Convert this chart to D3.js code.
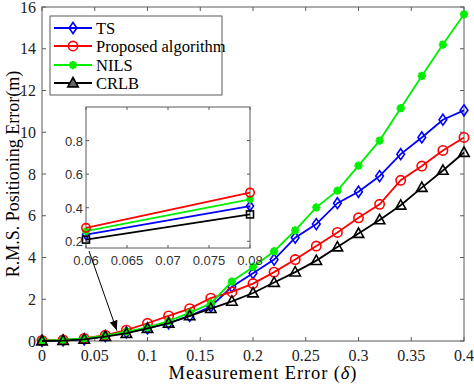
<!DOCTYPE html>
<html><head><meta charset="utf-8">
<script src="https://cdn.jsdelivr.net/npm/d3@7/dist/d3.min.js"></script>
<style>body{margin:0;background:#fff}svg{display:block}</style>
</head><body><svg id="c" width="474" height="384"></svg>
<script>
const xs = [0,0.02,0.04,0.06,0.08,0.1,0.12,0.14,0.16,0.18,0.2,0.22,0.24,0.26,0.28,0.3,0.32,0.34,0.36,0.38,0.4];
const tsVals = [0.01,0.03,0.08,0.24,0.41,0.6,0.85,1.2,1.65,2.6,3.25,3.9,4.95,5.6,6.6,7.15,7.9,8.95,9.75,10.6,11.05];
const propVals = [0.03,0.05,0.12,0.28,0.52,0.85,1.2,1.55,2.05,2.35,2.75,3.3,3.9,4.55,5.2,5.9,6.55,7.7,8.38,9.13,9.75];
const nilsVals = [0.02,0.05,0.12,0.26,0.45,0.65,0.95,1.35,1.8,2.85,3.55,4.3,5.3,6.4,7.2,8.4,9.6,11.15,12.7,14.2,15.65];
const crlbVals = [0.0,0.02,0.08,0.21,0.36,0.6,0.85,1.2,1.55,1.9,2.3,2.8,3.3,3.85,4.5,5.15,5.8,6.5,7.35,8.17,9.03];
const seriesNames = ["TS","Proposed algorithm","NILS","CRLB"];
const xTicks = [0,0.05,0.1,0.15,0.2,0.25,0.3,0.35,0.4];
const xTickLabels = ["0","0.05","0.1","0.15","0.2","0.25","0.3","0.35","0.4"];
const yTicks = [0,2,4,6,8,10,12,14,16];
// inset (zoom) data
const insetX = [0.06,0.08];
const insetTS = [0.24,0.41];
const insetProp = [0.28,0.49];
const insetNILS = [0.26,0.45];
const insetCRLB = [0.21,0.36];
const insetXTicks = [0.06,0.065,0.07,0.075,0.08];
const insetXTickLabels = ["0.06","0.065","0.07","0.075","0.08"];
const insetYTicks = [0.2,0.4,0.6,0.8];

const colors = ["#0000ff","#ff0000","#00ee00","#000000"];
const svg = d3.select("#c");
const axisCol = "#5a5a5a";
const serif = "'Liberation Serif','Times New Roman',serif";
const sans = "'Liberation Sans',Arial,sans-serif";

const L=42,R=464,T=7,B=341;
const x = d3.scaleLinear().domain([0,0.4]).range([L,R]);
const y = d3.scaleLinear().domain([0,16]).range([B,T]);

function marker(g, type, cx, cy, col, s){
  if(type==="diamond"){
    g.append("path").attr("d",`M${cx},${cy-s}L${cx+s*0.7},${cy}L${cx},${cy+s}L${cx-s*0.7},${cy}Z`)
     .attr("fill","none").attr("stroke",col).attr("stroke-width",1.6);
  } else if(type==="circle"){
    g.append("circle").attr("cx",cx).attr("cy",cy).attr("r",s*0.85).attr("fill","none").attr("stroke",col).attr("stroke-width",1.6);
  } else if(type==="star"){
    const r = s*0.75;
    let d = "";
    for(let k=0;k<4;k++){
      const a = k*Math.PI/4;
      d += `M${cx-r*Math.cos(a)},${cy-r*Math.sin(a)}L${cx+r*Math.cos(a)},${cy+r*Math.sin(a)}`;
    }
    g.append("path").attr("d",d).attr("stroke",col).attr("stroke-width",2.4);
  } else if(type==="triangle"){
    g.append("path").attr("d",`M${cx},${cy-s}L${cx+s*0.95},${cy+s*0.7}L${cx-s*0.95},${cy+s*0.7}Z`)
     .attr("fill","none").attr("stroke",col).attr("stroke-width",1.6);
  } else if(type==="square"){
    g.append("rect").attr("x",cx-s*0.7).attr("y",cy-s*0.7).attr("width",s*1.4).attr("height",s*1.4)
     .attr("fill","none").attr("stroke",col).attr("stroke-width",1.6);
  }
}

// main axes box
svg.append("rect").attr("x",L).attr("y",T).attr("width",R-L).attr("height",B-T)
  .attr("fill","#fff").attr("stroke",axisCol).attr("stroke-width",1);

// ticks
const tg = svg.append("g");
xTicks.forEach((t,i)=>{
  const px = x(t);
  tg.append("line").attr("x1",px).attr("x2",px).attr("y1",B).attr("y2",B-4).attr("stroke",axisCol);
  tg.append("line").attr("x1",px).attr("x2",px).attr("y1",T).attr("y2",T+4).attr("stroke",axisCol);
  tg.append("text").attr("x",px).attr("y",B+20).attr("text-anchor","middle")
    .attr("font-family",serif).attr("font-size",16).attr("fill","#222").text(xTickLabels[i]);
});
yTicks.forEach(t=>{
  const py = y(t);
  tg.append("line").attr("x1",L).attr("x2",L+4).attr("y1",py).attr("y2",py).attr("stroke",axisCol);
  tg.append("line").attr("x1",R).attr("x2",R-4).attr("y1",py).attr("y2",py).attr("stroke",axisCol);
  tg.append("text").attr("x",L-6).attr("y",py+5.5).attr("text-anchor","end")
    .attr("font-family",serif).attr("font-size",16).attr("fill","#222").text(t);
});

// series
const mainSeries = [
  {v:tsVals, c:colors[0], m:"diamond"},
  {v:propVals, c:colors[1], m:"circle"},
  {v:nilsVals, c:colors[2], m:"star"},
  {v:crlbVals, c:colors[3], m:"triangle"}
];
const line = d3.line().x(d=>x(d[0])).y(d=>y(d[1]));
[0,1,2,3].forEach(i=>{
  const s = mainSeries[i];
  const pts = xs.map((xv,k)=>[xv,s.v[k]]);
  const g = svg.append("g");
  g.append("path").attr("d",line(pts)).attr("fill","none").attr("stroke",s.c).attr("stroke-width",1.8);
  pts.forEach(p=>marker(g,s.m,x(p[0]),y(p[1]),s.c,5.5));
});

// legend
const lg = svg.append("g");
lg.append("rect").attr("x",50).attr("y",16).attr("width",172).attr("height",79)
  .attr("fill","#fff").attr("stroke",axisCol).attr("stroke-width",1);
const legMarkers = ["diamond","circle","star","triangle"];
const legY = [28,46,65,83];
seriesNames.forEach((n,i)=>{
  lg.append("line").attr("x1",54).attr("x2",92).attr("y1",legY[i]).attr("y2",legY[i])
    .attr("stroke",colors[i]).attr("stroke-width",1.8);
  if(i===3){
    const s=5.5, cx=73, cy=legY[i];
    lg.append("path").attr("d",`M${cx},${cy-s}L${cx+s*0.95},${cy+s*0.7}L${cx-s*0.95},${cy+s*0.7}Z`)
      .attr("fill","#666").attr("stroke","#000").attr("stroke-width",1.6);
  } else {
    marker(lg,legMarkers[i],73,legY[i],colors[i],5.5);
  }
  lg.append("text").attr("x",96).attr("y",legY[i]+5.5).attr("font-family",serif)
    .attr("font-size",16.5).text(n);
});

// inset
const iL=86,iR=250,iT=107,iB=248;
const ix = d3.scaleLinear().domain([0.06,0.08]).range([iL,iR]);
const iy = d3.scaleLinear().domain([0.16,1.0]).range([iB,iT]);
const ig = svg.append("g");
ig.append("rect").attr("x",iL).attr("y",iT).attr("width",iR-iL).attr("height",iB-iT)
  .attr("fill","#fff").attr("stroke",axisCol).attr("stroke-width",1);
insetXTicks.forEach((t,i)=>{
  const px = ix(t);
  ig.append("line").attr("x1",px).attr("x2",px).attr("y1",iB).attr("y2",iB-3).attr("stroke",axisCol);
  ig.append("line").attr("x1",px).attr("x2",px).attr("y1",iT).attr("y2",iT+3).attr("stroke",axisCol);
  ig.append("text").attr("x",px).attr("y",iB+17).attr("text-anchor","middle")
    .attr("font-family",sans).attr("font-size",13).attr("fill","#333").text(insetXTickLabels[i]);
});
insetYTicks.forEach(t=>{
  const py = iy(t);
  ig.append("line").attr("x1",iL).attr("x2",iL+3).attr("y1",py).attr("y2",py).attr("stroke",axisCol);
  ig.append("line").attr("x1",iR).attr("x2",iR-3).attr("y1",py).attr("y2",py).attr("stroke",axisCol);
  ig.append("text").attr("x",iL-3).attr("y",py+5).attr("text-anchor","end")
    .attr("font-family",sans).attr("font-size",13).attr("fill","#333").text(t);
});
const insetSeries = [
  {v:insetTS,c:colors[0],m:"diamond"},
  {v:insetNILS,c:colors[2],m:"star"},
  {v:insetProp,c:colors[1],m:"circle"},
  {v:insetCRLB,c:colors[3],m:"square"}
];
const iline = d3.line().x(d=>ix(d[0])).y(d=>iy(d[1]));
insetSeries.forEach(s=>{
  const pts = insetX.map((xv,k)=>[xv,s.v[k]]);
  const g = ig.append("g");
  g.append("path").attr("d",iline(pts)).attr("fill","none").attr("stroke",s.c).attr("stroke-width",1.8);
  pts.forEach(p=>marker(g,s.m,ix(p[0]),iy(p[1]),s.c,5));
});

// arrow
svg.append("defs").append("marker").attr("id","ah").attr("viewBox","0 0 10 10")
  .attr("refX",10).attr("refY",5).attr("markerWidth",10).attr("markerHeight",10)
  .attr("orient","auto").attr("markerUnits","userSpaceOnUse")
  .append("path").attr("d","M0,1L10,5L0,9Z").attr("fill","#000");
svg.append("line").attr("x1",89).attr("y1",251).attr("x2",x(0.07)+1).attr("y2",y(0.5))
  .attr("stroke","#000").attr("stroke-width",1).attr("marker-end","url(#ah)");

// axis labels
svg.append("text").attr("transform",`translate(19,${(T+B)/2}) rotate(-90)`).attr("text-anchor","middle")
  .attr("font-family",serif).attr("font-size",18).text("R.M.S. Positioning Error(m)");
const xl = svg.append("text").attr("x",263).attr("y",379).attr("text-anchor","middle")
  .attr("font-family",serif).attr("font-size",18.5).attr("letter-spacing","0.9px");
xl.append("tspan").text("Measurement Error (");
xl.append("tspan").attr("font-style","italic").text("δ");
xl.append("tspan").text(")");
</script></body></html>
